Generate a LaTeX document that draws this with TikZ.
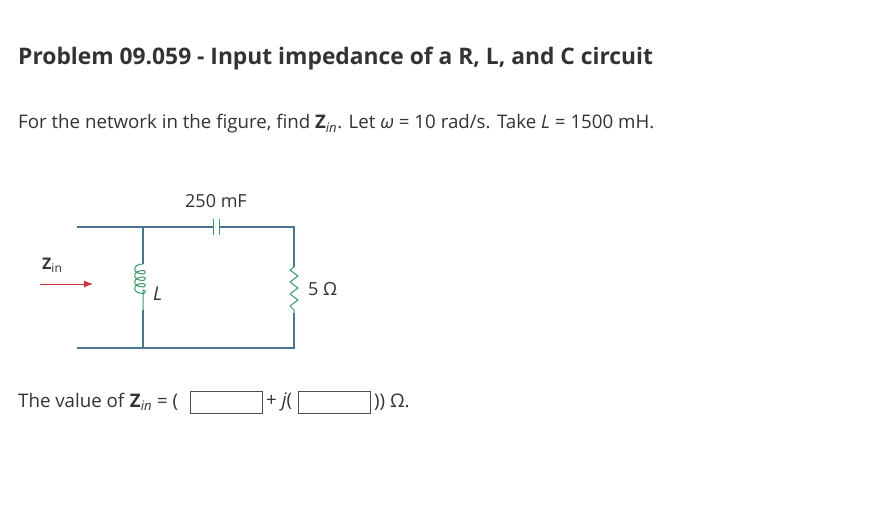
\documentclass[tikz,border=0pt]{standalone}
\usepackage{fontspec}
\setmainfont{Open Sans}
\usetikzlibrary{arrows.meta}
\definecolor{wire}{HTML}{4A7590}
\definecolor{comp}{HTML}{3A9A6A}
\definecolor{arr}{HTML}{D03040}
\definecolor{txt}{HTML}{333333}
\begin{document}
\begin{tikzpicture}[x=1pt,y=-1pt,
  wirest/.style={draw=wire,line width=1.1pt},
  compst/.style={draw=comp,line width=1pt},
  lbl/.style={text=txt,inner sep=0pt,anchor=west,font=\fontsize{18.7}{22}\selectfont},
  ansbox/.style={draw=black!70,minimum width=72pt,minimum height=22pt,inner sep=0pt,anchor=west}]
\useasboundingbox[fill=white] (0,0) rectangle (883,525);
\node[lbl,font=\fontsize{22.8}{26}\selectfont\bfseries] (title) at (18,59) {Problem 09.059 - Input impedance of a R, L, and C circuit};
\node[lbl] (q) at (18,124) {For the network in the figure, find \textbf{Z}\textsubscript{\itshape in}. Let \textit{ω} = 10 rad/s. Take \textit{L} = 1500 mH.};
% circuit
\coordinate (tl) at (77,227); \coordinate (bl) at (77,348);
\coordinate (tm) at (143,227); \coordinate (bm) at (143,348);
\coordinate (tr) at (294,227); \coordinate (br) at (294,348);
\coordinate (l1) at (143,264); \coordinate (l2) at (143,310);
\coordinate (r1) at (294,267); \coordinate (r2) at (294,313);
\coordinate (c1) at (213,227); \coordinate (c2) at (219,227);
\draw[wirest] (tl) -- (tm) -- (c1);
\draw[wirest] (c2) -- (tr) -- (r1);
\draw[wirest] (r2) -- (br) -- (bm) -- (bl);
\draw[wirest] (tm) -- (l1); \draw[wirest] (l2) -- (bm);
\draw[compst] (213,219) -- (213,235) (219,219) -- (219,235);
\draw[compst] (l1) \foreach \i in {0,...,3}{ .. controls +(-11,0) and +(-11,0) .. ++(0,10) .. controls +(3,0) and +(3,0) .. ++(0,-3.5) } -- (l2);
\draw[compst,line join=round] (r1) -- ++(-4,3) \foreach \i in {1,...,3}{ -- ++(8,6) -- ++(-8,6)} -- ++(4,4) -- (r2);
\node[lbl,font=\fontsize{18}{21}\selectfont] (cap) at (185,201) {250 mF};
\node[lbl,font=\fontsize{19}{22}\selectfont\itshape] (ind) at (153,294) {L};
\node[lbl,font=\fontsize{18}{21}\selectfont] (res) at (308,289) {5 Ω};
\node[lbl,font=\fontsize{16}{19}\selectfont\bfseries] (zin) at (42,265) {Z\textsubscript{\normalfont\fontsize{12}{13}\selectfont in}};
\coordinate (a1) at (40,284); \coordinate (a2) at (93,284);
\draw[arr,line width=1pt,-{Latex[length=9pt,width=7pt]}] (a1) -- (a2);
% answer line
\node[lbl] (ans) at (18,402) {The value of \textbf{Z}\textsubscript{\itshape in} = (};
\node[ansbox] (b1) at (190,402) {};
\node[lbl] (plus) at (266,402) {+ \textit{j}(};
\node[ansbox] (b2) at (298,402) {};
\node[lbl] (end) at (374,402) {)) Ω.};
\end{tikzpicture}
\end{document}
